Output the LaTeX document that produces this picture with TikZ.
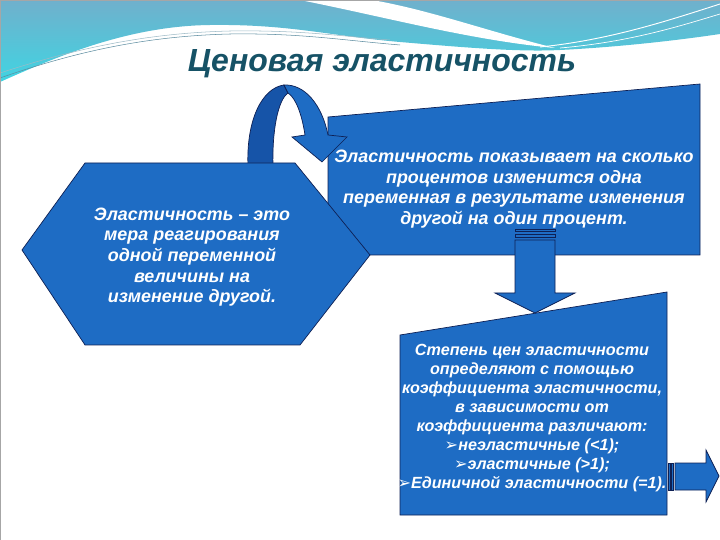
\documentclass[tikz,border=0pt]{standalone}
\usepackage{fontspec}
\setmainfont{Liberation Sans}
\newfontfamily\dingfont{DejaVu Sans}

\definecolor{boxblue}{RGB}{30,108,196}
\definecolor{legblue}{RGB}{22,84,168}
\definecolor{edgenavy}{RGB}{14,32,84}
\definecolor{titleteal}{RGB}{22,82,102}
\definecolor{wavetop}{RGB}{112,176,204}
\definecolor{wavebot}{RGB}{64,212,226}
\definecolor{waveline}{RGB}{92,140,160}

\tikzset{
  blockfill/.style={fill=boxblue,draw=edgenavy,line width=0.6pt},
  slidetext/.style={text=white,align=center,
    font=\bfseries\itshape\fontsize{15.3}{17.6}\selectfont},
}

\begin{document}
\begin{tikzpicture}[x=0.03cm,y=-0.03cm,line width=0.45pt]
  \useasboundingbox (0,0) rectangle (720,540);

  % background waves
  \shade[top color=wavetop,bottom color=wavebot]
    (0,0) -- (720,0) -- (720,34)
    .. controls (680,40) and (620,47) .. (560,50)
    .. controls (520,52) and (470,48) .. (400,42)
    .. controls (330,36) and (290,24) .. (210,25)
    .. controls (130,26) and (60,55) .. (0,82) -- cycle;
  \fill[white] (300,0) -- (372,0)
    .. controls (430,10) and (490,32) .. (555,48)
    .. controls (470,40) and (390,18) .. (300,0) -- cycle;
  \draw[white,line width=0.8pt] (540,47) .. controls (610,40) and (670,20) .. (720,4);
  \draw[white,line width=0.6pt] (560,48) .. controls (630,42) and (680,26) .. (720,14);
  \draw[waveline] (0,78) .. controls (80,50) and (150,36) .. (230,34)
    .. controls (300,33) and (340,40) .. (400,45);
  \draw[waveline!60] (0,73) .. controls (80,47) and (150,33) .. (230,31)
    .. controls (300,30) and (340,36) .. (390,40);
  \draw[gray!70,line width=0.8pt] (0,0) rectangle (720,540);

  \node[text=titleteal,font=\bfseries\itshape\fontsize{27.3}{30}\selectfont]
    (title) at (382,64) {Ценовая эластичность};

  % blocks
  \filldraw[blockfill] (328,117) -- (700,84) -- (700,255) -- (328,255) -- cycle;
  \filldraw[blockfill] (400,335) -- (667,292) -- (667,515) -- (400,515) -- cycle;

  % down arrow
  \filldraw[blockfill] (515,229) rectangle (555,231);
  \filldraw[blockfill] (515,234) rectangle (555,237);
  \filldraw[blockfill] (515,240) -- (555,240) -- (555,293) -- (575,293)
    -- (535,313) -- (495,293) -- (515,293) -- cycle;

  % curved arrow
  \filldraw[fill=legblue,draw=edgenavy,line width=0.6pt] (248,167)
    .. controls (246,120) and (262,88) .. (284,85) -- (288,93)
    .. controls (278,100) and (272,130) .. (273,167) -- cycle;
  \filldraw[blockfill] (284,85) .. controls (305,84) and (322,105) .. (328,135)
    -- (347,137) -- (322,162) -- (292,137) -- (305,135)
    .. controls (302,115) and (296,98) .. (288,93) -- cycle;

  \filldraw[blockfill] (85,163) -- (295,163) -- (370,255) -- (300,345)
    -- (85,345) -- (22,250) -- cycle;

  % right arrow
  \filldraw[blockfill] (668,463) rectangle (670,490);
  \filldraw[blockfill] (671.5,463) rectangle (673.5,490);
  \filldraw[blockfill] (675,463) -- (706,463) -- (706,450) -- (719,476)
    -- (706,502) -- (706,490) -- (675,490) -- cycle;

  \node[slidetext] (defn) at (192,257)
    {Эластичность – это\\мера реагирования\\одной переменной\\величины на\\изменение другой.};
  \node[slidetext] (pcttext) at (514,189)
    {Эластичность показывает на сколько\\процентов изменится одна\\переменная в результате изменения\\другой на один процент.};
  \node[slidetext,font=\bfseries\itshape\fontsize{13.8}{16.2}\selectfont] (degtext) at (532,418)
    {Степень цен эластичности\\определяют с помощью\\коэффициента эластичности,\\в зависимости от\\коэффициента различают:\\
     {\dingfont\bfseries ➢}неэластичные (<1);\\{\dingfont\bfseries ➢}эластичные (>1);\\{\dingfont\bfseries ➢}Единичной эластичности (=1).};
\end{tikzpicture}
\end{document}
